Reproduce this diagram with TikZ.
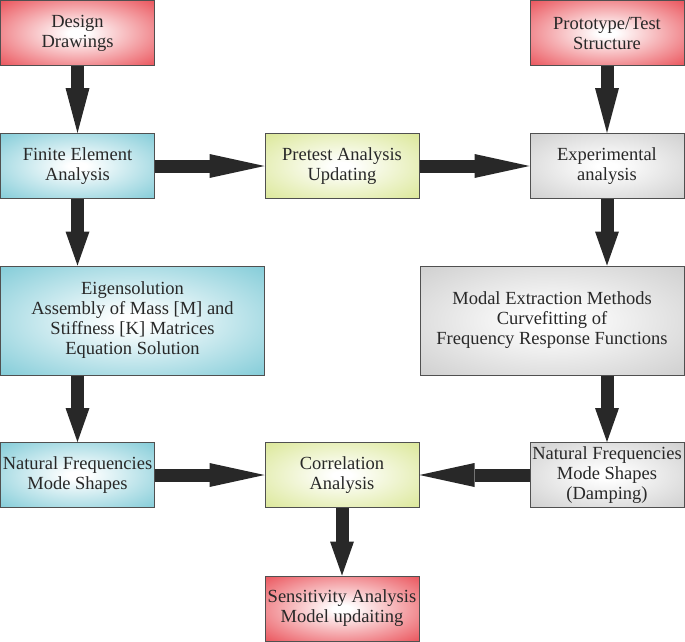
\documentclass[tikz,border=0pt]{standalone}
\usepackage{fontspec}
\setmainfont{Liberation Serif}
\usetikzlibrary{arrows.meta}
\definecolor{cred}{RGB}{228,30,40}
\definecolor{ccyan}{RGB}{92,188,204}
\definecolor{cgreen}{RGB}{208,224,120}
\definecolor{cgray}{RGB}{192,192,192}
\definecolor{arrc}{RGB}{40,40,40}
\definecolor{txtc}{RGB}{40,40,40}
\definecolor{brd}{RGB}{80,80,80}
\pgfdeclareradialshading{radred}{\pgfpoint{0bp}{0bp}}{color(0bp)=(white); color(3bp)=(white); color(46bp)=(cred); color(72bp)=(cred)}
\pgfdeclareradialshading{radcyan}{\pgfpoint{0bp}{0bp}}{color(0bp)=(white); color(3bp)=(white); color(46bp)=(ccyan); color(72bp)=(ccyan)}
\pgfdeclareradialshading{radgreen}{\pgfpoint{0bp}{0bp}}{color(0bp)=(white); color(3bp)=(white); color(46bp)=(cgreen); color(72bp)=(cgreen)}
\pgfdeclareradialshading{radgray}{\pgfpoint{0bp}{0bp}}{color(0bp)=(white); color(3bp)=(white); color(46bp)=(cgray); color(72bp)=(cgray)}
\tikzset{
  box/.style={draw=brd, line width=1pt, rectangle, inner sep=0pt, align=center,
    text=txtc, font=\fontsize{18.5}{20}\selectfont, minimum height=65pt},
  sbox/.style={box, minimum width=154pt},
  wbox/.style={box, minimum width=264pt, minimum height=109pt},
  redbox/.style={shading=radred},
  cyanbox/.style={shading=radcyan},
  greenbox/.style={shading=radgreen},
  graybox/.style={shading=radgray},
  harr/.style={draw=arrc, line width=13pt, -{Triangle[length=55pt,width=24pt,line width=0pt]}},
  varrlong/.style={draw=arrc, line width=13pt, -{Triangle[length=45pt,width=24pt,line width=0pt]}},
  varrshort/.style={draw=arrc, line width=13pt, -{Triangle[length=34pt,width=24pt,line width=0pt]}},
}
\begin{document}
\begin{tikzpicture}[x=1pt,y=-1pt]
\useasboundingbox (0,0) rectangle (685,642);
\node[sbox,redbox] (dd) at (77.5,33) {Design\\Drawings};
\node[sbox,redbox] (pt) at (607,33) {Prototype/Test\\Structure};
\node[sbox,cyanbox] (fea) at (77.5,166) {Finite Element\\Analysis};
\node[sbox,greenbox] (pre) at (342,166) {Pretest Analysis\\Updating};
\node[sbox,graybox] (exp) at (607,166) {Experimental\\analysis};
\node[wbox,cyanbox] (eig) at (132.5,320.5) {Eigensolution\\Assembly of Mass [M] and\\Stiffness [K] Matrices\\Equation Solution};
\node[wbox,graybox] (mod) at (552,320.5) {Modal Extraction Methods\\Curvefitting of\\Frequency Response Functions};
\node[sbox,cyanbox] (nfl) at (77.5,475) {Natural Frequencies\\Mode Shapes};
\node[sbox,greenbox] (cor) at (342,475) {Correlation\\Analysis};
\node[sbox,graybox] (nfr) at (607,475) {Natural Frequencies\\Mode Shapes\\(Damping)};
\node[sbox,redbox] (sen) at (342,608.5) {Sensitivity Analysis\\Model updaiting};
\draw[varrlong] (dd.south) -- (fea.north);
\draw[varrlong] (pt.south) -- (exp.north);
\draw[harr] (fea.east) -- (pre.west);
\draw[harr] (pre.east) -- (exp.west);
\draw[varrshort] (fea.south) -- (fea.south |- eig.north);
\draw[varrshort] (exp.south) -- (exp.south |- mod.north);
\draw[varrshort] (nfl.north |- eig.south) -- (nfl.north);
\draw[varrshort] (nfr.north |- mod.south) -- (nfr.north);
\draw[harr] (nfl.east) -- (cor.west);
\draw[harr] (nfr.west) -- (cor.east);
\draw[varrshort] (cor.south) -- (sen.north);
\end{tikzpicture}
\end{document}
